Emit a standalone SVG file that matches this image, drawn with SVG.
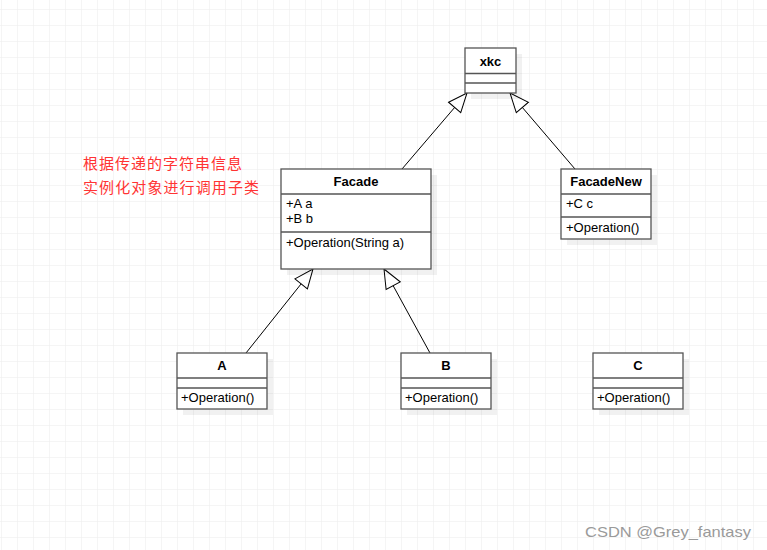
<svg xmlns="http://www.w3.org/2000/svg" width="767" height="550" viewBox="0 0 767 550">
<style>
.box{fill:#fff;stroke:#555;stroke-width:1.3}
.sh{fill:#000;fill-opacity:0.055}
.div{stroke:#555;stroke-width:1.3;fill:none}
.hd{font-family:"Liberation Sans",Arial,sans-serif;font-size:13px;font-weight:bold;fill:#000;text-anchor:middle}
.tx{font-family:"Liberation Sans",Arial,sans-serif;font-size:13px;fill:#000}
.edge{stroke:#000;stroke-width:1;fill:none;marker-end:url(#tri)}
.note{font-family:"Noto Sans CJK SC","Microsoft YaHei",sans-serif;font-size:15px;fill:#ff3333}
.wm{font-family:"Liberation Sans",Arial,sans-serif;font-size:15px;fill:#9a9a9a}
</style>
<defs>
<pattern id="grid" x="1" y="9" width="16" height="16" patternUnits="userSpaceOnUse">
<path d="M0,0 H16 M0,0 V16" stroke="#ebebeb" stroke-width="1" fill="none"/>
</pattern>
<marker id="tri" viewBox="0 0 20 18" refX="20" refY="9" markerWidth="20" markerHeight="18" markerUnits="userSpaceOnUse" orient="auto">
<path d="M1,1 L20,9 L1,17 Z" fill="#fff" stroke="#000" stroke-width="1"/>
</marker>
</defs>
<rect x="0" y="0" width="767" height="550" fill="#fff"/>
<rect x="0" y="0" width="767" height="550" fill="url(#grid)"/>

<g id="connectors">
<path class="edge" d="M402,169 L467,93"/>
<path class="edge" d="M575,169 L510,93"/>
<path class="edge" d="M246,353 L313,269"/>
<path class="edge" d="M430,353 L384,269"/>
</g>

<g id="xkc">
<rect class="sh" x="471" y="54" width="51" height="45"/>
<rect class="box" x="465" y="48" width="51" height="45"/>
<path class="div" d="M465,73.5 H516 M465,83 H516"/>
<text class="hd" x="490.5" y="65.5">xkc</text>
</g>

<g id="Facade">
<rect class="sh" x="287" y="175" width="150" height="100"/>
<rect class="box" x="281" y="169" width="150" height="100"/>
<path class="div" d="M281,194 H431 M281,232 H431"/>
<text class="hd" x="356" y="186">Facade</text>
<text class="tx" x="286" y="208">+A a</text>
<text class="tx" x="286" y="223">+B b</text>
<text class="tx" x="286" y="247">+Operation(String a)</text>
</g>

<g id="FacadeNew">
<rect class="sh" x="567" y="175" width="90" height="70"/>
<rect class="box" x="561" y="169" width="90" height="70"/>
<path class="div" d="M561,194 H651 M561,217 H651"/>
<text class="hd" x="606" y="186">FacadeNew</text>
<text class="tx" x="566" y="208">+C c</text>
<text class="tx" x="566" y="232">+Operation()</text>
</g>

<g id="A">
<rect class="sh" x="183" y="359" width="90" height="56"/>
<rect class="box" x="177" y="353" width="90" height="56"/>
<path class="div" d="M177,378 H267 M177,388 H267"/>
<text class="hd" x="222" y="370">A</text>
<text class="tx" x="181" y="402">+Operation()</text>
</g>

<g id="B">
<rect class="sh" x="407" y="359" width="90" height="56"/>
<rect class="box" x="401" y="353" width="90" height="56"/>
<path class="div" d="M401,378 H491 M401,388 H491"/>
<text class="hd" x="446" y="370">B</text>
<text class="tx" x="405" y="402">+Operation()</text>
</g>

<g id="C">
<rect class="sh" x="599" y="359" width="90" height="56"/>
<rect class="box" x="593" y="353" width="90" height="56"/>
<path class="div" d="M593,378 H683 M593,388 H683"/>
<text class="hd" x="638" y="370">C</text>
<text class="tx" x="597" y="402">+Operation()</text>
</g>

<g id="note">
<text class="note" x="83" y="169" textLength="159" lengthAdjust="spacing">根据传递的字符串信息</text>
<text class="note" x="83" y="193" textLength="176" lengthAdjust="spacing">实例化对象进行调用子类</text>
</g>

<text class="wm" x="585" y="537" textLength="166" lengthAdjust="spacingAndGlyphs">CSDN @Grey_fantasy</text>
</svg>
